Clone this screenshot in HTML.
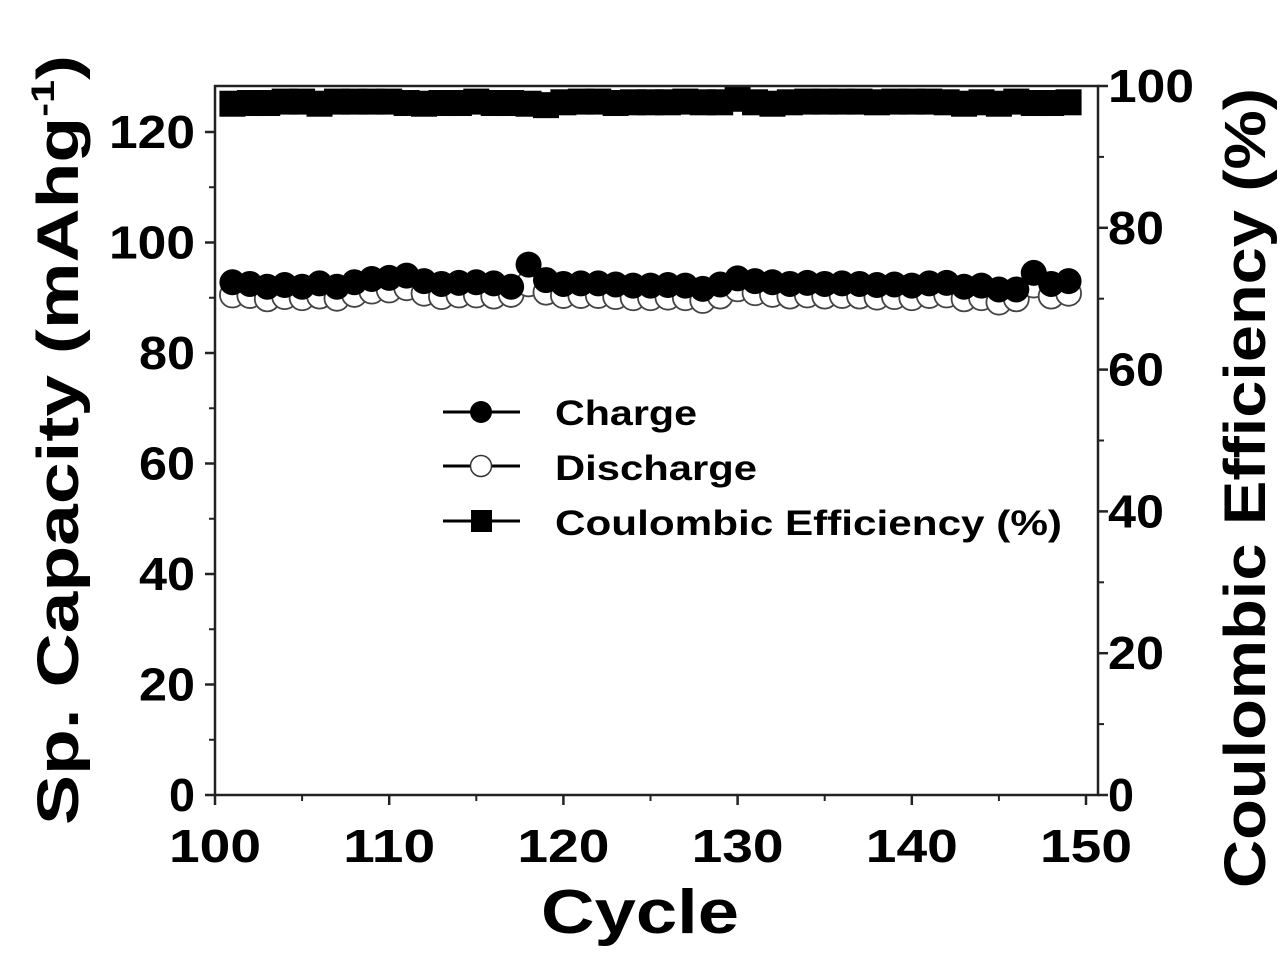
<!DOCTYPE html>
<html><head><meta charset="utf-8"><style>
html,body{margin:0;padding:0;background:#fff;}
svg{display:block;font-family:"Liberation Sans",Arial,sans-serif;font-weight:bold;}
</style></head><body>
<svg id="chart" width="1280" height="955" viewBox="0 0 1280 955">
<rect width="1280" height="955" fill="#fff"/>
<g id="series"></g>
<rect x="215" y="86" width="883" height="709" fill="none" stroke="#222" stroke-width="2.5"/>
<g id="axes"></g>
<text x="640" y="933" font-size="62" text-anchor="middle" textLength="198" lengthAdjust="spacingAndGlyphs">Cycle</text>
<text transform="translate(78,440) rotate(-90)" font-size="58" text-anchor="middle" textLength="770" lengthAdjust="spacingAndGlyphs">Sp. Capacity (mAhg<tspan dy="-24" font-size="32">-1</tspan><tspan dy="24">)</tspan></text>
<text transform="translate(1265,488) rotate(-90)" font-size="58" text-anchor="middle" textLength="800" lengthAdjust="spacingAndGlyphs">Coulombic Efficiency (%)</text>
<g>
<g>
<line x1="443" y1="412" x2="520" y2="412" stroke="#000" stroke-width="3"/><circle cx="481" cy="412" r="11" fill="#000"/>
<text x="555" y="425" font-size="35" textLength="142" lengthAdjust="spacingAndGlyphs">Charge</text></g>
<g>
<line x1="443" y1="466" x2="520" y2="466" stroke="#000" stroke-width="3"/><circle cx="481" cy="466" r="10.5" fill="#fff" stroke="#333" stroke-width="1.5"/>
<text x="555" y="480" font-size="35" textLength="202" lengthAdjust="spacingAndGlyphs">Discharge</text></g>
<g>
<line x1="443" y1="521" x2="520" y2="521" stroke="#000" stroke-width="3"/><rect x="471" y="510" width="21" height="22" fill="#000"/>
<text x="555" y="535" font-size="35" textLength="507" lengthAdjust="spacingAndGlyphs">Coulombic Efficiency (%)</text></g>
</g>
</svg>
<script>
const cycles = [];
for (let c = 101; c <= 149; c++) cycles.push(c);
const chargeValues = [92.8,92.5,92,92.3,92,92.6,92,92.8,93.4,93.6,94,93,92.5,92.7,92.8,92.6,92,96,93.2,92.5,92.6,92.6,92.4,92.2,92.2,92.3,92.2,91.6,92.4,93.5,93,92.8,92.5,92.7,92.5,92.6,92.5,92.3,92.4,92.2,92.6,92.7,92,92.2,91.5,91.5,94.5,92.5,93];
const dischargeValues = [90.5,90.4,89.8,90.2,90,90.3,89.9,90.6,91.2,91.4,91.8,90.8,90.2,90.5,90.5,90.3,90.6,92.5,91,90.4,90.4,90.4,90.2,90,90,90.1,90,89.5,90.3,91.6,90.9,90.6,90.3,90.5,90.3,90.4,90.3,90.1,90.2,90,90.4,90.5,89.8,90,89.2,89.8,92.3,90.3,90.8];
const ceValues = [97.5,97.6,97.6,97.8,97.8,97.5,97.8,97.8,97.8,97.8,97.6,97.5,97.6,97.6,97.8,97.6,97.6,97.5,97.3,97.7,97.8,97.8,97.6,97.7,97.7,97.7,97.8,97.7,97.7,98.2,97.7,97.5,97.7,97.8,97.8,97.8,97.8,97.7,97.8,97.8,97.8,97.7,97.5,97.7,97.5,97.8,97.6,97.6,97.7];
const xTicks = [100,110,120,130,140,150];
const yTicks = [0,20,40,60,80,100,120];
const y2Ticks = [0,20,40,60,80,100];

const NS = "http://www.w3.org/2000/svg";
const xS = v => 215 + (v - 100) * 17.42;
const yS = v => 795 - v * 5.525;
const y2S = v => 795 - v * 7.09;
function mk(tag, attrs, parent){const e=document.createElementNS(NS,tag);for(const k in attrs)e.setAttribute(k,attrs[k]);parent.appendChild(e);return e;}
const axes = document.getElementById('axes');
const series = document.getElementById('series');
function lbl(t){const s=String(t);return s.length*30;}

xTicks.forEach(t=>{
  const x=xS(t);
  const l=mk('line',{x1:x,y1:795,x2:x,y2:805,stroke:'#222','stroke-width':2.5},axes);
  
  
  const tx=mk('text',{x:x,y:862,'font-size':46,'text-anchor':'middle',textLength:lbl(t)+2,lengthAdjust:'spacingAndGlyphs'},axes);
  tx.textContent=t;
  
  
});
for(let t=105;t<150;t+=10){
  const m=mk('line',{x1:xS(t),y1:795,x2:xS(t),y2:801,stroke:'#222','stroke-width':2},axes);
  
  
}
yTicks.forEach(t=>{
  const y=yS(t);
  const l=mk('line',{x1:205,y1:y,x2:215,y2:y,stroke:'#222','stroke-width':2.5},axes);
  
  
  const tx=mk('text',{x:195,y:y+16,'font-size':46,'text-anchor':'end',textLength:lbl(t)-4,lengthAdjust:'spacingAndGlyphs'},axes);
  tx.textContent=t;
  
  
});
for(let t=10;t<=120;t+=20){
  const m=mk('line',{x1:209,y1:yS(t),x2:215,y2:yS(t),stroke:'#222','stroke-width':2},axes);
  
  
}
y2Ticks.forEach(t=>{
  const y=y2S(t);
  const l=mk('line',{x1:1098,y1:y,x2:1108,y2:y,stroke:'#222','stroke-width':2.5},axes);
  
  
  const tx=mk('text',{x:1108,y:y+16,'font-size':46,'text-anchor':'start',textLength:lbl(t)-4,lengthAdjust:'spacingAndGlyphs'},axes);
  tx.textContent=t;
  
  
});
for(let t=10;t<100;t+=20){
  const m=mk('line',{x1:1098,y1:y2S(t),x2:1104,y2:y2S(t),stroke:'#222','stroke-width':2},axes);
  
  
}

function path(vals, sc){return vals.map((v,i)=>(i?'L':'M')+xS(cycles[i])+','+sc(v)).join(' ');}
const pc=mk('path',{d:path(ceValues,y2S),fill:'none',stroke:'#000','stroke-width':2},series);


ceValues.forEach((v,i)=>{
  const r=mk('rect',{x:xS(cycles[i])-13,y:y2S(v)-13,width:26,height:26,fill:'#000'},series);
  
  
});
dischargeValues.forEach((v,i)=>{
  const c=mk('circle',{cx:xS(cycles[i]),cy:yS(v),r:12.5,fill:'#fff',stroke:'#444','stroke-width':1.8},series);
  
  
});
chargeValues.forEach((v,i)=>{
  const c=mk('circle',{cx:xS(cycles[i]),cy:yS(v),r:13,fill:'#000'},series);
  
  
});
</script>
</body></html>
